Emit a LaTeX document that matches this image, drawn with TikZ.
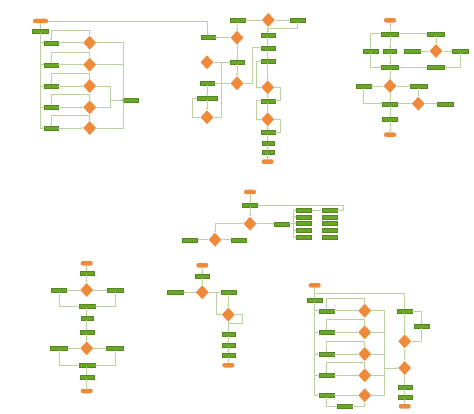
\documentclass[tikz,border=0pt]{standalone}
\usetikzlibrary{shapes.geometric,arrows.meta}
\definecolor{gr}{HTML}{6AA728}
\definecolor{og}{HTML}{EE8A3A}
\definecolor{lc}{HTML}{BCD19F}
\begin{document}
\begin{tikzpicture}[x=1pt,y=-1pt,
  box/.style={rectangle,fill=gr,draw=gr!80!black,line width=0.2pt,minimum width=14pt,minimum height=4pt,inner sep=0pt},
  dia/.style={diamond,fill=og,minimum width=13pt,minimum height=14pt,inner sep=0pt},
  term/.style={rectangle,rounded corners=2pt,fill=og,minimum width=12pt,minimum height=4.5pt,inner sep=0pt},
  ln/.style={draw=lc,line width=0.8pt,-{Stealth[length=2pt,width=2pt]}},
  pl/.style={draw=lc,line width=0.8pt}]
\useasboundingbox[fill=white] (0,0) rectangle (474,414);

% ---------- chart 1 ----------
\node[term,minimum width=15pt] (t1) at (40.5,21) {};
\node[box,minimum width=16pt] (b1) at (40.5,31.3) {};
\foreach \i/\y in {1/42.7,2/64.7,3/86,4/107.3,5/128}{
  \node[box] (r\i) at (51,\y) {};
  \node[dia] (d\i) at (89.7,\y) {};
}
\node[box,minimum width=15pt] (m1) at (130.5,100.3) {};
\draw[ln] (t1) -- (b1);
\foreach \i in {1,...,5}{
  \draw[ln] (b1.south) |- (r\i.west);
  \draw[ln] (r\i) -- (d\i);
  \draw[ln] (d\i.north) -- ++(0,-5.5) -| (r\i.north);
}
\draw[ln] (d1.east) -- (d1.east -| m1.west) -- (m1.west);
\draw[pl] (d2.east) -- (d2.east -| m1.west);
\draw[ln] (d5.east) -- (d5.east -| m1.west) -- (m1.west);
\draw[ln] (d3.east) -- ++(13.5,0) |- (m1.west);
\draw[ln] (d4.east) -- ++(13.5,0) |- (m1.west);

% ---------- chart 2 ----------
\node[dia] (D0) at (268.3,20) {};
\node[box,minimum width=15pt] (BL) at (237.3,20) {};
\node[box,minimum width=15pt] (BR) at (297.7,20) {};
\node[box] (B1) at (267.7,35) {};
\node[box] (B2) at (267.7,47.7) {};
\node[box] (B3) at (267.7,61) {};
\node[dia] (D3) at (267.7,87.3) {};
\node[box] (B4) at (267.7,100.7) {};
\node[dia] (D4) at (267.7,119.3) {};
\node[box] (B5) at (267.7,132.3) {};
\node[box,minimum width=12pt] (B6) at (267.7,143.3) {};
\node[box,minimum width=12pt] (B7) at (267.7,151.7) {};
\node[term] (T2) at (267.7,161.7) {};
\node[box] (BA) at (207.7,37.3) {};
\node[dia] (DL1) at (237,37.7) {};
\node[dia] (DA) at (207,62.3) {};
\node[box] (BB) at (237,62.3) {};
\node[dia] (DL2) at (237,83.3) {};
\node[box] (BC) at (207,83.3) {};
\node[box,minimum width=20pt] (BD) at (207,98.3) {};
\node[dia] (DB) at (207,117.3) {};

\draw[ln] (t1.east) -| (BA.north);
\draw[ln] (D0) -- (BL);
\draw[ln] (D0) -- (BR);
\draw[ln] (BR.south) -- ++(0,6) -| (B1.north);
\draw[ln] (D0) -- (B1);
\draw[ln] (B1) -- (B2);
\draw[ln] (B2) -- (B3);
\draw[ln] (B3) -- (D3);
\draw[ln] (D3) -- (B4);
\draw[ln] (B4) -- (D4);
\draw[ln] (D4) -- (B5);
\draw[ln] (B5) -- (B6);
\draw[ln] (B6) -- (B7);
\draw[ln] (B7) -- (T2);
\draw[ln] (D3.west) -- (256.3,87.3) |- (B3.west);
\draw[ln] (D3.east) -- (280,87.3) |- (B4.east);
\draw[ln] (D4.west) -- (256.3,119.3) |- (B4.west);
\draw[ln] (D4.east) -- (280,119.3) |- (B5.east);
\draw[ln] (BL) -- (DL1);
\draw[ln] (BA) -- (DL1);
\draw[ln] (DL1) -- (BB);
\draw[ln] (DA) -- (BB);
\draw[ln] (BB) -- (DL2);
\draw[ln] (DL2) -- (BC);
\draw[ln] (DL2.east) -- (252,83.3) |- (B2.west);
\draw[ln] (BC) -- (BD);
\draw[ln] (BD) -- (DB);
\draw[ln] (DB.west) -- (192.3,117.3) |- (BD.west);
\draw[ln] (DB.east) -- (221.5,117.3) -- (221.5,62.3);

% ---------- chart 3 ----------
\node[term] (T3) at (390,20.3) {};
\node[box,minimum width=17pt] (A1) at (390,33.7) {};
\node[box,minimum width=15pt] (A2) at (370.7,51) {};
\node[box,minimum width=13pt] (A3) at (390,51) {};
\node[box,minimum width=17pt] (A4) at (436,33.7) {};
\node[box,minimum width=16pt] (A5) at (411.7,51) {};
\node[dia] (AD) at (436,51) {};
\node[box,minimum width=16pt] (A6) at (460,51) {};
\node[box,minimum width=17pt] (A7) at (390,67) {};
\node[box,minimum width=17pt] (A8) at (436,67) {};
\node[dia] (AD2) at (390,86) {};
\node[box,minimum width=15pt] (A9) at (363.3,86) {};
\node[box,minimum width=17pt] (A10) at (418.3,86) {};
\node[box,minimum width=15pt] (A11) at (390,103.7) {};
\node[dia] (AD3) at (418.3,103.7) {};
\node[box,minimum width=16pt] (A12) at (445,103.7) {};
\node[box,minimum width=15pt] (A13) at (390,119.3) {};
\node[term] (T3b) at (390,134.7) {};
\draw[ln] (T3) -- (A1);
\draw[ln] (A1.west) -| (A2.north);
\draw[ln] (A1) -- (A3);
\draw[ln] (A1) -- (A4);
\draw[ln] (A4) -- (AD);
\draw[ln] (AD) -- (A5);
\draw[ln] (AD) -- (A6);
\draw[ln] (A6.south) |- (A8.east);
\draw[ln] (A8) -- (A7);
\draw[ln] (A3) -- (A7);
\draw[ln] (A2.south) |- (A7.west);
\draw[ln] (A7) -- (AD2);
\draw[ln] (AD2) -- (A9);
\draw[ln] (AD2) -- (A10);
\draw[ln] (A9.south) |- (A11.west);
\draw[ln] (A10) -- (AD3);
\draw[ln] (AD3) -- (A11);
\draw[ln] (AD3) -- (A12);
\draw[ln] (AD2) -- (A11);
\draw[ln] (A11) -- (A13);
\draw[ln] (A13) -- (T3b);

% ---------- chart 4 ----------
\node[term] (T4) at (250,192) {};
\node[box,minimum width=15pt] (C1) at (250,205.3) {};
\node[dia] (CD) at (250,223.7) {};
\node[box,minimum width=15pt] (C2) at (281.7,223.7) {};
\foreach \i/\y in {1/210,2/216.7,3/223.3,4/230.3,5/237.3}{
  \node[box,minimum width=15pt] (L\i) at (304,\y) {};
  \node[box,minimum width=15pt] (R\i) at (329.3,\y) {};
  \draw[ln] (293,\y) -- (L\i.west);
}
\draw[pl] (C2.east) -- (293,223.7);
\draw[pl] (293,210) -- (293,237.3);
\draw[ln] (L1) -- (R1);
\draw[ln] (R1.east) -- (343.3,210) |- (C1.east);
\node[dia] (CD2) at (215,239.7) {};
\node[box,minimum width=15pt] (C3) at (190,239.7) {};
\node[box,minimum width=15pt] (C4) at (238.3,239.7) {};
\draw[ln] (T4) -- (C1);
\draw[ln] (C1) -- (CD);
\draw[ln] (CD) -- (C2);
\draw[ln] (CD.west) -| (CD2.north);
\draw[ln] (CD2) -- (C3);
\draw[ln] (CD2) -- (C4);

% ---------- chart 5 ----------
\node[term] (T5) at (86.7,263.3) {};
\node[box] (E1) at (86.7,273.3) {};
\node[dia] (ED1) at (86.7,290) {};
\node[box,minimum width=15pt] (EL1) at (59,290) {};
\node[box,minimum width=16pt] (ER1) at (115,290) {};
\node[box,minimum width=16pt] (E2) at (86.7,306) {};
\node[box,minimum width=12pt] (E3) at (86.7,318.3) {};
\node[box] (E4) at (86.7,331.7) {};
\node[dia] (ED2) at (86.7,348.3) {};
\node[box,minimum width=17pt] (EL2) at (59,348.3) {};
\node[box,minimum width=17pt] (ER2) at (115,348.3) {};
\node[box,minimum width=16pt] (E5) at (86.7,365) {};
\node[box] (E6) at (86.7,377.3) {};
\node[term] (T5b) at (86.7,391) {};
\draw[ln] (T5) -- (E1);
\draw[ln] (E1) -- (ED1);
\draw[ln] (ED1) -- (EL1);
\draw[ln] (ED1) -- (ER1);
\draw[ln] (EL1.south) |- (E2.west);
\draw[ln] (ER1.south) |- (E2.east);
\draw[ln] (E2) -- (E3);
\draw[ln] (E3) -- (E4);
\draw[ln] (E4) -- (ED2);
\draw[ln] (ED2) -- (EL2);
\draw[ln] (ED2) -- (ER2);
\draw[ln] (EL2.south) |- (E5.west);
\draw[ln] (ER2.south) |- (E5.east);
\draw[ln] (E5) -- (E6);
\draw[ln] (E6) -- (T5b);

% ---------- chart 6 ----------
\node[term] (T6) at (202.3,265.3) {};
\node[box] (F1) at (202.3,276.3) {};
\node[dia] (FD1) at (202.3,292.3) {};
\node[box,minimum width=16pt] (FL) at (175,292.3) {};
\node[box,minimum width=15pt] (FR) at (228.3,292.3) {};
\node[dia] (FD2) at (228.3,314.7) {};
\node[box,minimum width=13pt] (F2) at (228.3,334) {};
\node[box,minimum width=13pt] (F3) at (228.3,345.3) {};
\node[box,minimum width=13pt] (F4) at (228.3,355.3) {};
\node[term] (T6b) at (228.3,365.3) {};
\draw[ln] (T6) -- (F1);
\draw[ln] (F1) -- (FD1);
\draw[ln] (FD1) -- (FL);
\draw[ln] (FD1) -- (FR);
\draw[ln] (216.5,292.3) |- (FD2.west);
\draw[ln] (FR) -- (FD2);
\draw[ln] (FD2.east) -- (242.3,314.7) |- (228.3,323.5);
\draw[ln] (FD2) -- (F2);
\draw[ln] (F2) -- (F3);
\draw[ln] (F3) -- (F4);
\draw[ln] (F4) -- (T6b);

% ---------- chart 7 ----------
\node[term] (T7) at (314.7,285.3) {};
\node[box,minimum width=15pt] (G0) at (314.7,299.7) {};
\coordinate (g7) at (314.7,293);
\foreach \i/\y in {1/310.7,2/332.3,3/354,4/375.3,5/395.3}{
  \node[box,minimum width=15pt] (G\i) at (326.3,\y) {};
  \node[dia] (GD\i) at (364.7,\y) {};
  \draw[ln] (G0.south) |- (G\i.west);
  \draw[ln] (G\i) -- (GD\i);
  \draw[pl] (GD\i.east) -- (384.7,\y);
}
\foreach \i in {1,...,4}{
  \draw[ln] (GD\i.north) -- ++(0,-5.5) -| (G\i.north);
}
\node[box,minimum width=15pt] (GB) at (344.7,406.3) {};
\draw[ln] (G5.south) |- (GB.west);
\draw[ln] (GB.east) -| (GD5.south);
\node[box,minimum width=15pt] (H1) at (404.7,311.3) {};
\node[dia] (HD1) at (404.7,341.3) {};
\node[box,minimum width=15pt] (HB) at (421.3,326.3) {};
\node[dia] (HD2) at (404.7,368) {};
\node[box,minimum width=14pt] (H2) at (404.7,387.3) {};
\node[box,minimum width=14pt] (H3) at (404.7,397) {};
\node[term] (T7b) at (404.7,406.3) {};
\draw[pl] (384.7,310.7) -- (384.7,395.3);
\draw[ln] (384.7,368) -- (HD2.west);
\draw[ln] (T7) -- (G0);
\draw[ln] (g7) -| (H1.north);
\draw[ln] (H1.east) -| (HB.north);
\draw[ln] (HB.south) |- (HD1.east);
\draw[ln] (H1) -- (HD1);
\draw[ln] (HD1) -- (HD2);
\draw[ln] (HD2) -- (H2);
\draw[ln] (H2) -- (H3);
\draw[ln] (H3) -- (T7b);
\end{tikzpicture}
\end{document}
